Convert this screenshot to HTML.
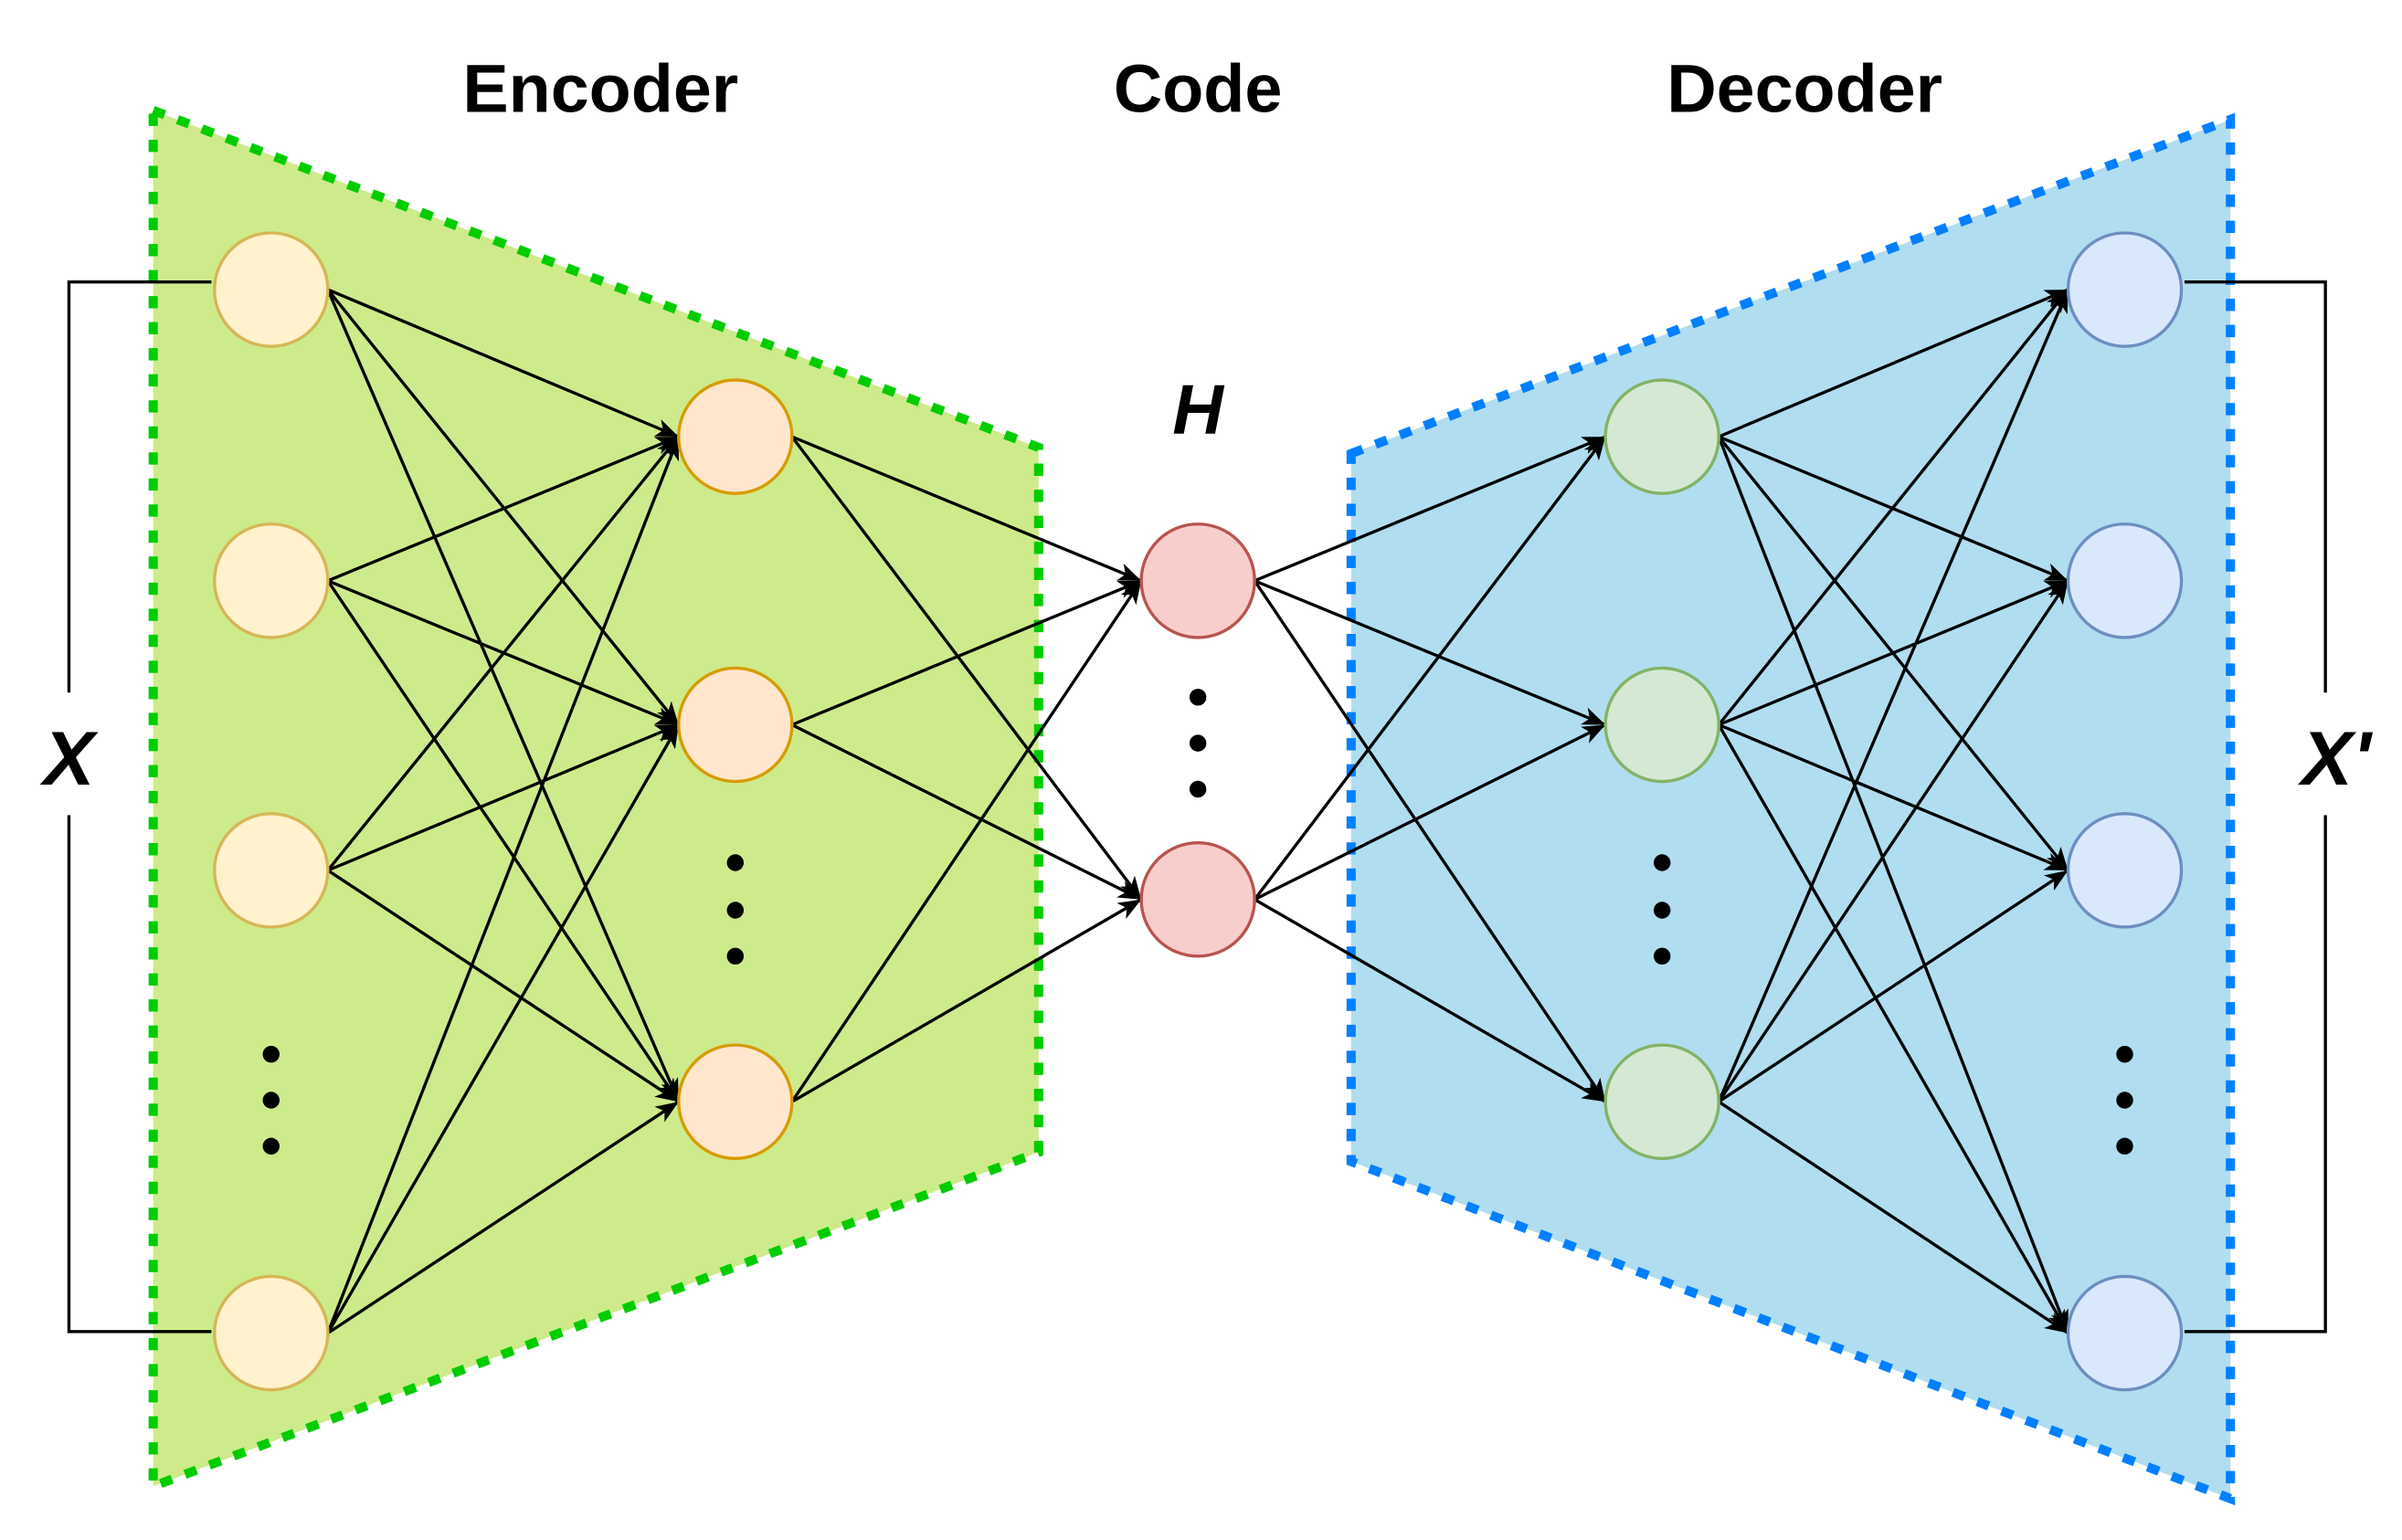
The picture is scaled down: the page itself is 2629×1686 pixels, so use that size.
<!DOCTYPE html>
<html><head><meta charset="utf-8"><style>html,body{margin:0;padding:0;background:#fff}svg{display:block}</style></head>
<body>
<svg width="2629" height="1686" viewBox="0 0 1568 1005" preserveAspectRatio="none" xmlns="http://www.w3.org/2000/svg">
<defs>
<marker id="a" markerUnits="userSpaceOnUse" markerWidth="16" markerHeight="12" refX="15" refY="6" orient="auto">
<path d="M0,0 L15,6 L0,12 L4,6 z" fill="#000"/>
</marker>
</defs>
<polygon points="100,72 678,292 678,752 100,970" fill="#cdeb8b" stroke="#00cc00" stroke-width="6" stroke-dasharray="8,9"/>
<polygon points="882,296 1456,78 1456,978 882,758" fill="#b1ddf0" stroke="#007fff" stroke-width="6" stroke-dasharray="8,9"/>
<g font-family="Liberation Sans, Arial, sans-serif" font-weight="bold" font-size="44" text-anchor="middle" fill="#000">
<text x="392" y="73" textLength="180" lengthAdjust="spacingAndGlyphs">Encoder</text>
<text x="782" y="73" textLength="110" lengthAdjust="spacingAndGlyphs">Code</text>
<text x="1178" y="73" textLength="180" lengthAdjust="spacingAndGlyphs">Decoder</text>
<text x="782" y="283" font-style="italic" font-size="46">H</text>
<text x="45" y="512" font-style="italic" font-size="50">X</text>
<text x="1525" y="512" font-style="italic" font-size="50">X'</text>
</g>
<g fill="none" stroke="#000" stroke-width="2">
<polyline points="138,184 45,184 45,452"/>
<polyline points="45,532 45,869 138,869"/>
<polyline points="1426,184 1518,184 1518,452"/>
<polyline points="1518,532 1518,869 1426,869"/>
</g>
<g stroke="#000" stroke-width="2" marker-end="url(#a)">
<line x1="214" y1="189" x2="443" y2="285"/><line x1="214" y1="189" x2="443" y2="473"/><line x1="214" y1="189" x2="443" y2="719"/>
<line x1="214" y1="379" x2="443" y2="285"/><line x1="214" y1="379" x2="443" y2="473"/><line x1="214" y1="379" x2="443" y2="719"/>
<line x1="214" y1="568" x2="443" y2="285"/><line x1="214" y1="568" x2="443" y2="473"/><line x1="214" y1="568" x2="443" y2="719"/>
<line x1="214" y1="870" x2="443" y2="285"/><line x1="214" y1="870" x2="443" y2="473"/><line x1="214" y1="870" x2="443" y2="719"/>
<line x1="517" y1="285" x2="745" y2="379"/><line x1="517" y1="285" x2="745" y2="587"/>
<line x1="517" y1="473" x2="745" y2="379"/><line x1="517" y1="473" x2="745" y2="587"/>
<line x1="517" y1="719" x2="745" y2="379"/><line x1="517" y1="719" x2="745" y2="587"/>
<line x1="819" y1="379" x2="1048" y2="285"/><line x1="819" y1="379" x2="1048" y2="473"/><line x1="819" y1="379" x2="1048" y2="719"/>
<line x1="819" y1="587" x2="1048" y2="285"/><line x1="819" y1="587" x2="1048" y2="473"/><line x1="819" y1="587" x2="1048" y2="719"/>
<line x1="1122" y1="285" x2="1350" y2="189"/><line x1="1122" y1="285" x2="1350" y2="379"/><line x1="1122" y1="285" x2="1350" y2="568"/><line x1="1122" y1="285" x2="1350" y2="870"/>
<line x1="1122" y1="473" x2="1350" y2="189"/><line x1="1122" y1="473" x2="1350" y2="379"/><line x1="1122" y1="473" x2="1350" y2="568"/><line x1="1122" y1="473" x2="1350" y2="870"/>
<line x1="1122" y1="719" x2="1350" y2="189"/><line x1="1122" y1="719" x2="1350" y2="379"/><line x1="1122" y1="719" x2="1350" y2="568"/><line x1="1122" y1="719" x2="1350" y2="870"/>
</g>
<g stroke-width="2">
<g fill="#fff2cc" stroke="#d6b656">
<circle cx="177" cy="189" r="37"/><circle cx="177" cy="379" r="37"/><circle cx="177" cy="568" r="37"/><circle cx="177" cy="870" r="37"/>
</g>
<g fill="#ffe6cc" stroke="#d79b00">
<circle cx="480" cy="285" r="37"/><circle cx="480" cy="473" r="37"/><circle cx="480" cy="719" r="37"/>
</g>
<g fill="#f8cecc" stroke="#b85450">
<circle cx="782" cy="379" r="37"/><circle cx="782" cy="587" r="37"/>
</g>
<g fill="#d5e8d4" stroke="#82b366">
<circle cx="1085" cy="285" r="37"/><circle cx="1085" cy="473" r="37"/><circle cx="1085" cy="719" r="37"/>
</g>
<g fill="#dae8fc" stroke="#6c8ebf">
<circle cx="1387" cy="189" r="37"/><circle cx="1387" cy="379" r="37"/><circle cx="1387" cy="568" r="37"/><circle cx="1387" cy="870" r="37"/>
</g>
</g>
<g fill="#000">
<circle cx="177" cy="688" r="5.5"/><circle cx="177" cy="718" r="5.5"/><circle cx="177" cy="748" r="5.5"/>
<circle cx="480" cy="563" r="5.5"/><circle cx="480" cy="594" r="5.5"/><circle cx="480" cy="624" r="5.5"/>
<circle cx="782" cy="455" r="5.5"/><circle cx="782" cy="485" r="5.5"/><circle cx="782" cy="515" r="5.5"/>
<circle cx="1085" cy="563" r="5.5"/><circle cx="1085" cy="594" r="5.5"/><circle cx="1085" cy="624" r="5.5"/>
<circle cx="1387" cy="688" r="5.5"/><circle cx="1387" cy="718" r="5.5"/><circle cx="1387" cy="748" r="5.5"/>
</g>
</svg>
</body></html>
